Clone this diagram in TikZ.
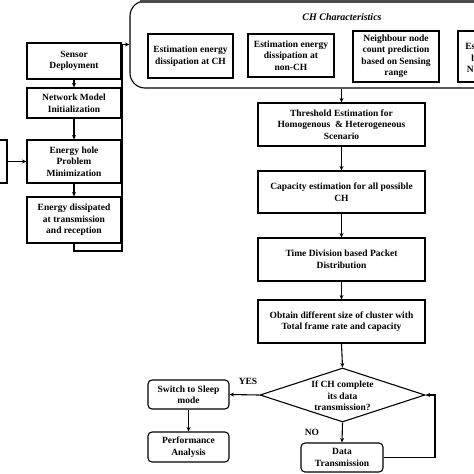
\documentclass[tikz,border=0pt]{standalone}
\usepackage{fontspec}
\setmainfont{Liberation Serif}
\usetikzlibrary{shapes.geometric,arrows.meta}

\begin{document}
\begin{tikzpicture}[x=1pt,y=-1pt,
    box_node/.style={rectangle,draw,line width=1.1pt,align=center,inner sep=2pt,
      font=\fontsize{9.5}{11.5}\selectfont\bfseries},
    round_node/.style={box_node,rounded corners=4pt},
    decision_node/.style={diamond,draw,line width=1.1pt,inner sep=0pt,
      minimum width=165pt,minimum height=54pt},
    label_node/.style={font=\fontsize{9.5}{11.5}\selectfont\bfseries,align=center},
    >={Stealth[length=4.5pt,width=4pt]}, line width=1.1pt]

    \useasboundingbox (0,0) rectangle (474,474);
    \clip (0,0) rectangle (474,474);

    % left column
    \node[box_node, minimum width=67pt, minimum height=43pt] (lb) at (-26.5,161.5) {};
    \node[box_node, minimum width=94pt, minimum height=36pt] (sd) at (74,61) {Sensor\\Deployment};
    \node[box_node, minimum width=94pt, minimum height=30pt] (nm) at (74,103) {Network Model\\Initialization};
    \node[box_node, minimum width=94pt, minimum height=43pt] (eh) at (74,161.5) {Energy hole\\Problem\\Minimization};
    \node[box_node, minimum width=94pt, minimum height=46pt] (ed) at (74,220) {Energy dissipated\\at transmission\\and reception};

    % CH characteristics
    \node[draw, line width=1.1pt, rounded corners=15pt, minimum width=390pt, minimum height=87pt] (chbox) at (325,44.5) {};
    \fill[black!70] (140,0) rectangle (474,2.5);
    \node[label_node, font=\fontsize{10}{12}\selectfont\bfseries\itshape] (cht) at (342,17) {CH Characteristics};
    \node[box_node, minimum width=85pt, minimum height=44pt] (c1) at (190.5,56) {Estimation energy\\dissipation at CH};
    \node[box_node, minimum width=86pt, minimum height=43pt] (c2) at (291,55.5) {Estimation energy\\dissipation at\\non-CH};
    \node[box_node, minimum width=86pt, minimum height=51pt] (c3) at (396,56.5) {Neighbour node\\count prediction\\based on Sensing\\range};
    \node[box_node, minimum width=86pt, minimum height=51pt] (c4) at (501,56.5) {\mbox{}\\Estimation of CH\\based on Node\\Neighbour count};

    % right column
    \node[box_node, minimum width=167pt, minimum height=43pt] (th) at (341.5,124.5) {Threshold Estimation for\\Homogenous~ \& Heterogeneous\\Scenario};
    \node[box_node, minimum width=167pt, minimum height=42pt] (ca) at (341.5,192) {Capacity estimation for all possible\\CH};
    \node[box_node, minimum width=167pt, minimum height=43pt] (td) at (341.5,259.5) {Time Division based Packet\\Distribution};
    \node[box_node, minimum width=167pt, minimum height=43pt] (ob) at (341.5,321.5) {Obtain different size of cluster with\\Total frame rate and capacity};
    \node[decision_node] (dm) at (342.5,395) {};
    \node[label_node] (dmt) at (342.5,396) {If CH complete\\its data\\transmission?};
    \node[round_node, minimum width=81pt, minimum height=29pt] (sw) at (188.5,394.5) {Switch to Sleep\\mode};
    \node[round_node, minimum width=81pt, minimum height=30pt] (pa) at (188.5,447) {Performance\\Analysis};
    \node[round_node, minimum width=82pt, minimum height=29pt] (dt) at (342,457.5) {Data\\Transmission};
    \node[label_node] (yes) at (248,381) {YES};
    \node[label_node] (no) at (312,432) {NO};

    \coordinate (b1) at (122,251);
    \coordinate (b2) at (435,457.5);

    \draw[->] (sd) -- (nm);
    \draw[->] (nm) -- (eh);
    \draw[->] (eh) -- (ed);
    \draw[->] (lb) -- (eh);
    \draw[->] (ed.south) |- (b1) |- (chbox.west);
    \draw[->] (chbox.south -| th.north) -- (th.north);
    \draw[->] (th) -- (ca);
    \draw[->] (ca) -- (td);
    \draw[->] (td) -- (ob);
    \draw[->] (ob.south) -- (dm.north);
    \draw[->] (dm.west) -- (sw.east);
    \draw[->] (sw) -- (pa);
    \draw[->] (dm.south) -- (dt.north);
    \draw[->] (dt.east) -- (b2) |- (dm.east);

\end{tikzpicture}
\end{document}
